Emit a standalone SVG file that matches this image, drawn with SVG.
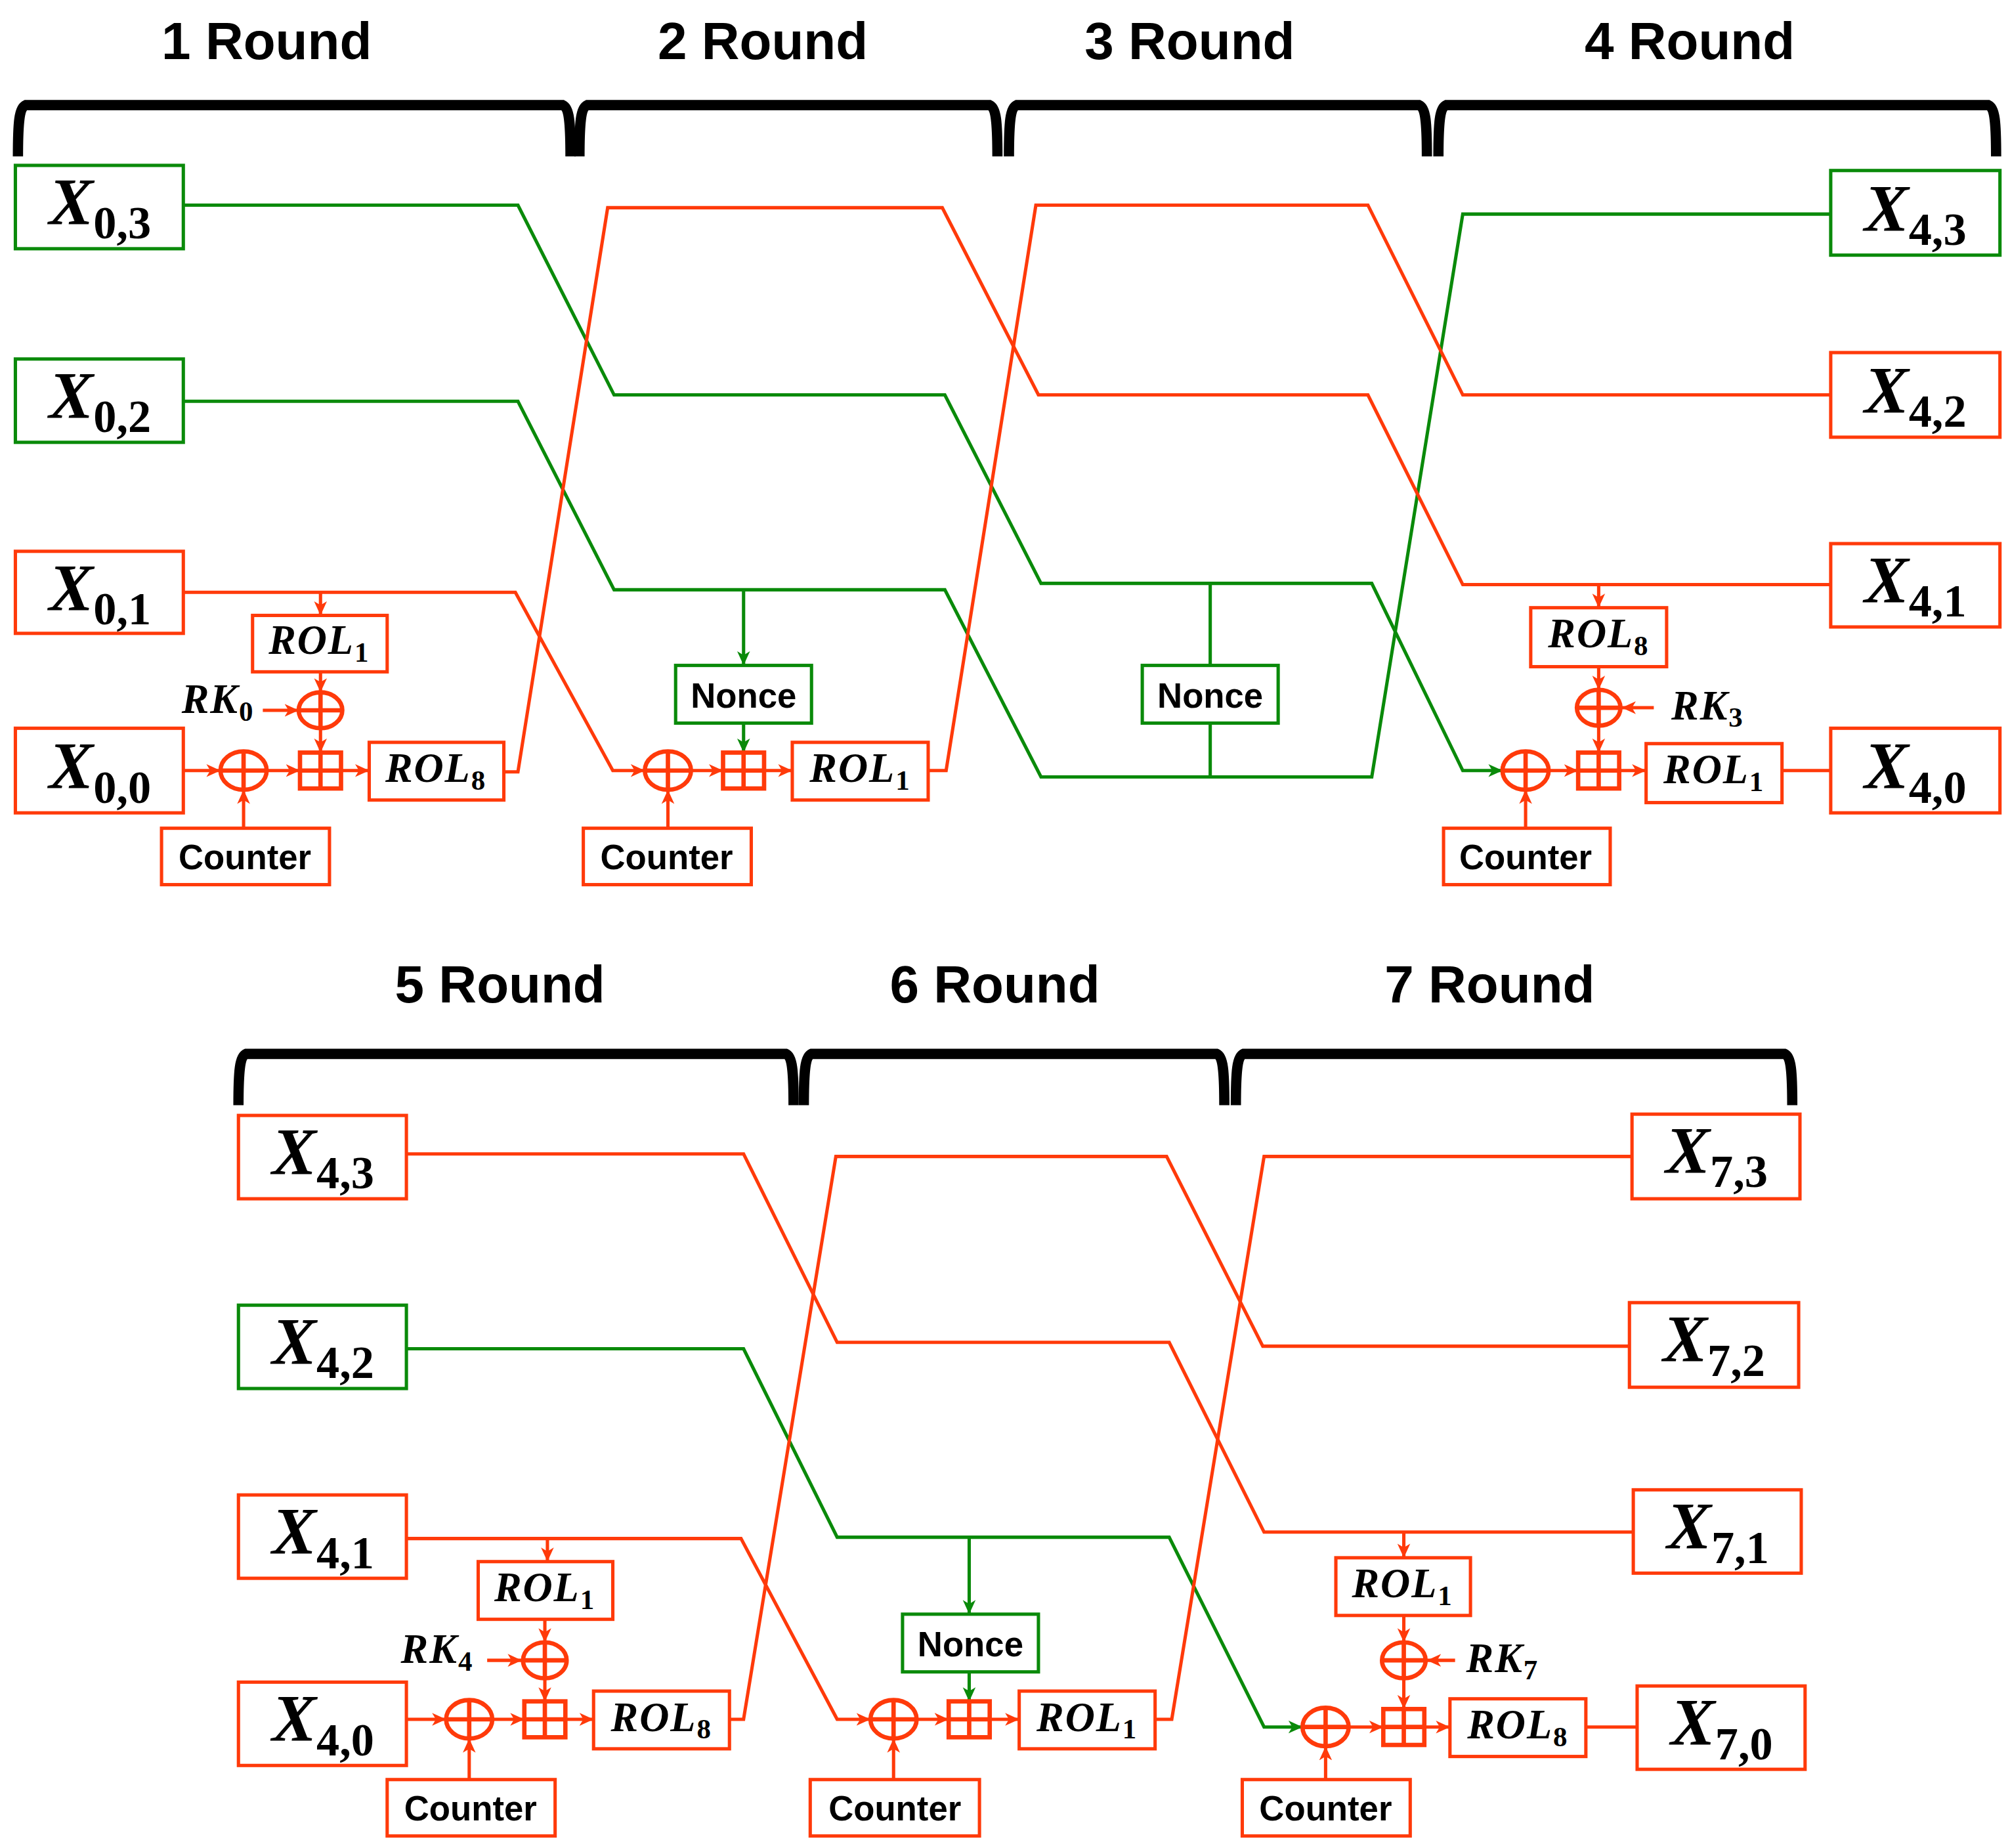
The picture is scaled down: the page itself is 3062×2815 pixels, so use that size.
<svg xmlns="http://www.w3.org/2000/svg" width="3062" height="2815" viewBox="0 0 3062 2815">
<style>
.r{stroke:#ff3a0a;fill:none;stroke-width:2.6}
.g{stroke:#0a8a0a;fill:none;stroke-width:2.6}
.rb{stroke:#ff3a0a;fill:#fff;stroke-width:2.6}
.gb{stroke:#0a8a0a;fill:#fff;stroke-width:2.6}
.br{stroke:#000;fill:none;stroke-width:8}
.op{stroke-width:3.4}
.t{font-family:"Liberation Sans",Arial,sans-serif;font-weight:bold;font-size:41px;text-anchor:middle}
.x{font-family:"Liberation Serif","Times New Roman",serif;font-weight:bold;font-style:italic;font-size:52px;text-anchor:middle}
.s{font-style:normal;font-size:36px}
.o{font-family:"Liberation Serif","Times New Roman",serif;font-weight:bold;font-style:italic;font-size:32px;text-anchor:middle;letter-spacing:1px}
.os{font-style:normal;font-size:22px}
.c{font-family:"Liberation Sans",Arial,sans-serif;font-weight:bold;font-size:27px;text-anchor:middle}
.ra{marker-end:url(#ar)}
.ga{marker-end:url(#ag)}
</style>
<defs>
<marker id="ar" markerUnits="userSpaceOnUse" markerWidth="12" markerHeight="12" refX="11" refY="6" orient="auto"><path d="M0,1 L11,6 L0,11 L3,6 Z" fill="#ff3a0a"/></marker>
<marker id="ag" markerUnits="userSpaceOnUse" markerWidth="12" markerHeight="12" refX="11" refY="6" orient="auto"><path d="M0,1 L11,6 L0,11 L3,6 Z" fill="#0a8a0a"/></marker>
</defs>
<rect width="3062" height="2815" fill="#fff"/>
<g transform="scale(1.953)">
<g id="titles">
<text class="t" x="208" y="46">1 Round</text>
<text class="t" x="595" y="46">2 Round</text>
<text class="t" x="928" y="46">3 Round</text>
<text class="t" x="1318" y="46">4 Round</text>
<text class="t" x="390" y="782">5 Round</text>
<text class="t" x="776" y="782">6 Round</text>
<text class="t" x="1162" y="782">7 Round</text>
<path class="br" d="M14,122 C14,95 15,84 20,82 L439,82 C444,84 445,95 445,122"/>
<path class="br" d="M452,122 C452,95 453,84 458,82 L772,82 C777,84 778,95 778,122"/>
<path class="br" d="M787,122 C787,95 788,84 793,82 L1107,82 C1112,84 1113,95 1113,122"/>
<path class="br" d="M1122,122 C1122,95 1123,84 1128,82 L1551,82 C1556,84 1557,95 1557,122"/>
<path class="br" d="M186,862 C186,835 187,824 192,822 L613,822 C618,824 619,835 619,862"/>
<path class="br" d="M627,862 C627,835 628,824 633,822 L949,822 C954,824 955,835 955,862"/>
<path class="br" d="M964,862 C964,835 965,824 970,822 L1392,822 C1397,824 1398,835 1398,862"/>
</g>
<g id="connectors">
<path class="g" d="M143,160 H404 L479,308 H737 L812,455 H1070 L1141,601 H1172" marker-end="url(#ag)"/>
<path class="g" d="M143,313 H404 L479,460 H737 L812,606 H1070 L1141,167 H1428"/>
<path class="g ga" d="M580,460 V519"/>
<path class="g ga" d="M580,564 V587"/>
<path class="g" d="M944,455 V606"/>
<path class="r ra" d="M143,462 H402 L478,601 H503"/>
<path class="r ra" d="M250,462 V480"/>
<path class="r ra" d="M250,524 V540"/>
<path class="r ra" d="M205,554 H233"/>
<path class="r ra" d="M250,568 V587"/>
<path class="r ra" d="M143,601 H172"/>
<path class="r ra" d="M208,601 H234"/>
<path class="r ra" d="M266,601 H288"/>
<path class="r ra" d="M190,646 V616"/>
<path class="r" d="M393,602 H404 L474,162 H735 L810,308 H1067 L1141,456 H1428"/>
<path class="r ra" d="M539,601 H564"/>
<path class="r ra" d="M596,601 H618"/>
<path class="r ra" d="M521,646 V616"/>
<path class="r" d="M724,601 H738 L808,160 H1067 L1141,308 H1428"/>
<path class="r ra" d="M1247,456 V474"/>
<path class="r ra" d="M1247,520 V538"/>
<path class="r ra" d="M1290,552 H1265"/>
<path class="r ra" d="M1247,566 V587"/>
<path class="r ra" d="M1208,601 H1231"/>
<path class="r ra" d="M1263,601 H1284"/>
<path class="r ra" d="M1190,646 V616"/>
<path class="r" d="M1390,601 H1428"/>
<path class="r" d="M317,900 H580 L653,1047 H912 L986,1195 H1274"/>
<path class="r ra" d="M1095,1195 V1215"/>
<path class="r ra" d="M1095,1260 V1281"/>
<path class="r ra" d="M1135,1295 H1113"/>
<path class="r ra" d="M1095,1309 V1333"/>
<path class="r ra" d="M1052,1347 H1079"/>
<path class="r ra" d="M1111,1347 H1131"/>
<path class="r ra" d="M1034,1388 V1362"/>
<path class="r" d="M1237,1347 H1277"/>
<path class="g ga" d="M317,1052 H580 L653,1199 H912 L986,1347 H1016"/>
<path class="g ga" d="M756,1199 V1259"/>
<path class="g ga" d="M756,1304 V1327"/>
<path class="r ra" d="M317,1200 H578 L653,1341 H679"/>
<path class="r ra" d="M427,1200 V1218"/>
<path class="r ra" d="M425,1263 V1281"/>
<path class="r ra" d="M380,1295 H407"/>
<path class="r ra" d="M425,1309 V1327"/>
<path class="r ra" d="M317,1341 H348"/>
<path class="r ra" d="M384,1341 H409"/>
<path class="r ra" d="M441,1341 H463"/>
<path class="r ra" d="M366,1388 V1356"/>
<path class="r" d="M569,1341 H580 L652,902 H910 L985,1050 H1271"/>
<path class="r ra" d="M715,1341 H740"/>
<path class="r ra" d="M772,1341 H795"/>
<path class="r ra" d="M697,1388 V1356"/>
<path class="r" d="M901,1341 H914 L986,902 H1273"/>
</g>
<g id="ops" class="r op">
<ellipse cx="250" cy="554" rx="17" ry="14"/><path d="M233,554 h34 M250,540 v28"/>
<ellipse cx="190" cy="601" rx="18" ry="15"/><path d="M172,601 h36 M190,586 v30"/>
<rect x="234" y="587" width="32" height="28"/><path d="M234,601 h32 M250,587 v28"/>
<ellipse cx="521" cy="601" rx="18" ry="15"/><path d="M503,601 h36 M521,586 v30"/>
<rect x="564" y="587" width="32" height="28"/><path d="M564,601 h32 M580,587 v28"/>
<ellipse cx="1247" cy="552" rx="17" ry="14"/><path d="M1230,552 h34 M1247,538 v28"/>
<ellipse cx="1190" cy="601" rx="18" ry="15"/><path d="M1172,601 h36 M1190,586 v30"/>
<rect x="1231" y="587" width="32" height="28"/><path d="M1231,601 h32 M1247,587 v28"/>
<ellipse cx="425" cy="1295" rx="17" ry="14"/><path d="M408,1295 h34 M425,1281 v28"/>
<ellipse cx="366" cy="1341" rx="18" ry="15"/><path d="M348,1341 h36 M366,1326 v30"/>
<rect x="409" y="1327" width="32" height="28"/><path d="M409,1341 h32 M425,1327 v28"/>
<ellipse cx="697" cy="1341" rx="18" ry="15"/><path d="M679,1341 h36 M697,1326 v30"/>
<rect x="740" y="1327" width="32" height="28"/><path d="M740,1341 h32 M756,1327 v28"/>
<ellipse cx="1095" cy="1295" rx="17" ry="14"/><path d="M1078,1295 h34 M1095,1281 v28"/>
<ellipse cx="1034" cy="1347" rx="18" ry="15"/><path d="M1016,1347 h36 M1034,1332 v30"/>
<rect x="1079" y="1333" width="32" height="28"/><path d="M1079,1347 h32 M1095,1333 v28"/>
</g>
<g id="labels">
<text class="o" x="170" y="556">RK<tspan class="os" dy="6">0</tspan></text>
<text class="o" x="1332" y="561">RK<tspan class="os" dy="6">3</tspan></text>
<text class="o" x="341" y="1297">RK<tspan class="os" dy="6">4</tspan></text>
<text class="o" x="1172" y="1304">RK<tspan class="os" dy="6">7</tspan></text>
</g>
<g id="n-x03"><rect class="gb" x="12" y="129" width="131" height="65"/><text class="x" x="78" y="175">X<tspan class="s" dy="11">0,3</tspan></text></g>
<g id="n-x02"><rect class="gb" x="12" y="280" width="131" height="65"/><text class="x" x="78" y="326">X<tspan class="s" dy="11">0,2</tspan></text></g>
<g id="n-x01"><rect class="rb" x="12" y="430" width="131" height="64"/><text class="x" x="78" y="476">X<tspan class="s" dy="11">0,1</tspan></text></g>
<g id="n-x00"><rect class="rb" x="12" y="568" width="131" height="66"/><text class="x" x="78" y="615">X<tspan class="s" dy="11">0,0</tspan></text></g>
<g id="n-x43"><rect class="gb" x="1428" y="133" width="132" height="66"/><text class="x" x="1494" y="180">X<tspan class="s" dy="11">4,3</tspan></text></g>
<g id="n-x42"><rect class="rb" x="1428" y="275" width="132" height="66"/><text class="x" x="1494" y="322">X<tspan class="s" dy="11">4,2</tspan></text></g>
<g id="n-x41"><rect class="rb" x="1428" y="424" width="132" height="65"/><text class="x" x="1494" y="470">X<tspan class="s" dy="11">4,1</tspan></text></g>
<g id="n-x40"><rect class="rb" x="1428" y="568" width="132" height="66"/><text class="x" x="1494" y="615">X<tspan class="s" dy="11">4,0</tspan></text></g>
<g id="n-rol1a"><rect class="rb" x="197" y="480" width="105" height="44"/><text class="o" x="249" y="510">ROL<tspan class="os" dy="6">1</tspan></text></g>
<g id="n-rol8a"><rect class="rb" x="288" y="579" width="105" height="45"/><text class="o" x="340" y="610">ROL<tspan class="os" dy="6">8</tspan></text></g>
<g id="n-cnt1"><rect class="rb" x="126" y="646" width="131" height="44"/><text class="c" x="191" y="678">Counter</text></g>
<g id="n-nonce2"><rect class="gb" x="527" y="519" width="106" height="45"/><text class="c" x="580" y="552">Nonce</text></g>
<g id="n-rol1b"><rect class="rb" x="618" y="579" width="106" height="45"/><text class="o" x="671" y="610">ROL<tspan class="os" dy="6">1</tspan></text></g>
<g id="n-cnt2"><rect class="rb" x="455" y="646" width="131" height="44"/><text class="c" x="520" y="678">Counter</text></g>
<g id="n-nonce3"><rect class="gb" x="891" y="519" width="106" height="45"/><text class="c" x="944" y="552">Nonce</text></g>
<g id="n-rol8d"><rect class="rb" x="1194" y="474" width="106" height="46"/><text class="o" x="1247" y="505">ROL<tspan class="os" dy="6">8</tspan></text></g>
<g id="n-rol1d"><rect class="rb" x="1284" y="580" width="106" height="46"/><text class="o" x="1337" y="611">ROL<tspan class="os" dy="6">1</tspan></text></g>
<g id="n-cnt4"><rect class="rb" x="1126" y="646" width="130" height="44"/><text class="c" x="1190" y="678">Counter</text></g>
<g id="n-x43b"><rect class="rb" x="186" y="870" width="131" height="65"/><text class="x" x="252" y="916">X<tspan class="s" dy="11">4,3</tspan></text></g>
<g id="n-x42b"><rect class="gb" x="186" y="1018" width="131" height="65"/><text class="x" x="252" y="1064">X<tspan class="s" dy="11">4,2</tspan></text></g>
<g id="n-x41b"><rect class="rb" x="186" y="1166" width="131" height="65"/><text class="x" x="252" y="1212">X<tspan class="s" dy="11">4,1</tspan></text></g>
<g id="n-x40b"><rect class="rb" x="186" y="1312" width="131" height="65"/><text class="x" x="252" y="1358">X<tspan class="s" dy="11">4,0</tspan></text></g>
<g id="n-x73"><rect class="rb" x="1273" y="869" width="131" height="66"/><text class="x" x="1339" y="915">X<tspan class="s" dy="11">7,3</tspan></text></g>
<g id="n-x72"><rect class="rb" x="1271" y="1016" width="132" height="66"/><text class="x" x="1337" y="1062">X<tspan class="s" dy="11">7,2</tspan></text></g>
<g id="n-x71"><rect class="rb" x="1274" y="1162" width="131" height="65"/><text class="x" x="1340" y="1208">X<tspan class="s" dy="11">7,1</tspan></text></g>
<g id="n-x70"><rect class="rb" x="1277" y="1315" width="131" height="65"/><text class="x" x="1343" y="1361">X<tspan class="s" dy="11">7,0</tspan></text></g>
<g id="n-rol1e"><rect class="rb" x="373" y="1218" width="105" height="45"/><text class="o" x="425" y="1249">ROL<tspan class="os" dy="6">1</tspan></text></g>
<g id="n-rol8e"><rect class="rb" x="463" y="1319" width="106" height="45"/><text class="o" x="516" y="1350">ROL<tspan class="os" dy="6">8</tspan></text></g>
<g id="n-cnt5"><rect class="rb" x="302" y="1388" width="131" height="44"/><text class="c" x="367" y="1420">Counter</text></g>
<g id="n-nonce6"><rect class="gb" x="704" y="1259" width="106" height="45"/><text class="c" x="757" y="1292">Nonce</text></g>
<g id="n-rol1f"><rect class="rb" x="795" y="1319" width="106" height="45"/><text class="o" x="848" y="1350">ROL<tspan class="os" dy="6">1</tspan></text></g>
<g id="n-cnt6"><rect class="rb" x="632" y="1388" width="132" height="44"/><text class="c" x="698" y="1420">Counter</text></g>
<g id="n-rol1g"><rect class="rb" x="1042" y="1215" width="105" height="45"/><text class="o" x="1094" y="1246">ROL<tspan class="os" dy="6">1</tspan></text></g>
<g id="n-rol8g"><rect class="rb" x="1131" y="1325" width="106" height="45"/><text class="o" x="1184" y="1356">ROL<tspan class="os" dy="6">8</tspan></text></g>
<g id="n-cnt7"><rect class="rb" x="969" y="1388" width="131" height="44"/><text class="c" x="1034" y="1420">Counter</text></g>
</g>
</svg>
